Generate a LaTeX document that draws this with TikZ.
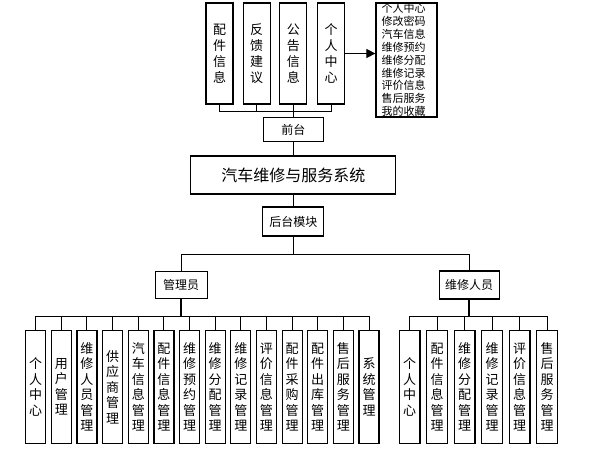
\documentclass[tikz,border=0pt]{standalone}
\usepackage{fontspec}
\newfontfamily\cjk{Noto Sans CJK SC}
\usetikzlibrary{arrows.meta}
\begin{document}
\begin{tikzpicture}[x=1pt,y=-1pt,
  box/.style={draw=black,line width=1.2pt,inner sep=0pt,align=center},
  vbox/.style={box,minimum width=20pt,minimum height=112.6pt,font=\cjk\fontsize{13}{15.5}\selectfont},
  tbox/.style={box,minimum width=27pt,minimum height=101pt,font=\cjk\fontsize{13}{15.8}\selectfont},
  hbox/.style={box,font=\cjk\fontsize{12}{14}\selectfont},
  conn/.style={draw=black,line width=1pt},
  thick conn/.style={draw=black,line width=1.8pt}]
\useasboundingbox (0,0) rectangle (608,449);

% top boxes
\node[tbox] (b1) at (219.5,53.5) {配\\件\\信\\息};
\node[tbox] (b2) at (256.7,53.5) {反\\馈\\建\\议};
\node[tbox] (b3) at (293.3,53.5) {公\\告\\信\\息};
\node[tbox] (b4) at (331,53.5) {个\\人\\中\\心};
\node[box,minimum width=61pt,minimum height=114pt,text width=50pt,inner xsep=5.5pt,align=left,
  font=\cjk\fontsize{11}{12.9}\selectfont] (lst) at (406.5,60)
  {个人中心\\修改密码\\汽车信息\\维修预约\\维修分配\\维修记录\\评价信息\\售后服务\\我的收藏};
\draw[conn,-{Triangle[length=9pt,width=9pt]}] (b4.east) -- (b4.east -| lst.west);

\node[hbox,minimum width=60pt,minimum height=24pt] (qt) at (293.3,129.5) {前台};
\coordinate (tbus) at (293.3,112);
\draw[conn] (b1.south) -- (b1.south |- tbus) -- (b4.south |- tbus) -- (b4.south);
\draw[conn] (b2.south) -- (b2.south |- tbus);
\draw[conn] (b3.south) -- (qt.north);

\node[box,minimum width=205pt,minimum height=38pt,font=\cjk\fontsize{16}{18}\selectfont] (sys) at (293.3,175) {汽车维修与服务系统};
\draw[conn] (qt.south) -- (sys.north);
\node[hbox,minimum width=61pt,minimum height=29pt] (ht) at (293.3,221.5) {后台模块};
\draw[conn] (sys.south) -- (ht.north);

\node[hbox,minimum width=52pt,minimum height=27pt] (gly) at (181.2,284.7) {管理员};
\node[hbox,minimum width=60pt,minimum height=28pt] (wxry) at (469.2,285) {维修人员};
\coordinate (mbus) at (293.3,254.3);
\draw[conn] (ht.south) -- (mbus);
\draw[conn] (gly.north) -- (gly.north |- mbus) -- (wxry.north |- mbus) -- (wxry.north);

% admin children
\node[vbox] (a1) at (35.7,387) {个\\人\\中\\心};
\node[vbox] (a2) at (61.34,387) {用\\户\\管\\理};
\node[vbox] (a3) at (86.98,387) {维\\修\\人\\员\\管\\理};
\node[vbox] (a4) at (112.62,387) {供\\应\\商\\管\\理};
\node[vbox] (a5) at (138.26,387) {汽\\车\\信\\息\\管\\理};
\node[vbox] (a6) at (163.9,387) {配\\件\\信\\息\\管\\理};
\node[vbox] (a7) at (189.54,387) {维\\修\\预\\约\\管\\理};
\node[vbox] (a8) at (215.18,387) {维\\修\\分\\配\\管\\理};
\node[vbox] (a9) at (240.82,387) {维\\修\\记\\录\\管\\理};
\node[vbox] (a10) at (266.46,387) {评\\价\\信\\息\\管\\理};
\node[vbox] (a11) at (292.1,387) {配\\件\\采\\购\\管\\理};
\node[vbox] (a12) at (317.74,387) {配\\件\\出\\库\\管\\理};
\node[vbox] (a13) at (343.38,387) {售\\后\\服\\务\\管\\理};
\node[vbox] (a14) at (369.02,387) {系\\统\\管\\理};
\coordinate (abus) at (181.2,316.5);
\draw[thick conn] (gly.south) -- (abus);
\draw[conn] (a1.north) -- (a1.north |- abus) -- (a14.north |- abus) -- (a14.north);
\foreach \i in {2,...,13} \draw[conn] (a\i.north) -- (a\i.north |- abus);

% repair staff children
\node[vbox,minimum width=20.7pt] (r1) at (409.7,387) {个\\人\\中\\心};
\node[vbox,minimum width=20.7pt] (r2) at (437.17,387) {配\\件\\信\\息\\管\\理};
\node[vbox,minimum width=20.7pt] (r3) at (464.64,387) {维\\修\\分\\配\\管\\理};
\node[vbox,minimum width=20.7pt] (r4) at (492.11,387) {维\\修\\记\\录\\管\\理};
\node[vbox,minimum width=20.7pt] (r5) at (519.58,387) {评\\价\\信\\息\\管\\理};
\node[vbox,minimum width=20.7pt] (r6) at (547.05,387) {售\\后\\服\\务\\管\\理};
\coordinate (rbus) at (469.2,316.5);
\draw[thick conn] (wxry.south) -- (rbus);
\draw[conn] (r1.north) -- (r1.north |- rbus) -- (r6.north |- rbus) -- (r6.north);
\foreach \i in {2,...,5} \draw[conn] (r\i.north) -- (r\i.north |- rbus);
\end{tikzpicture}
\end{document}
